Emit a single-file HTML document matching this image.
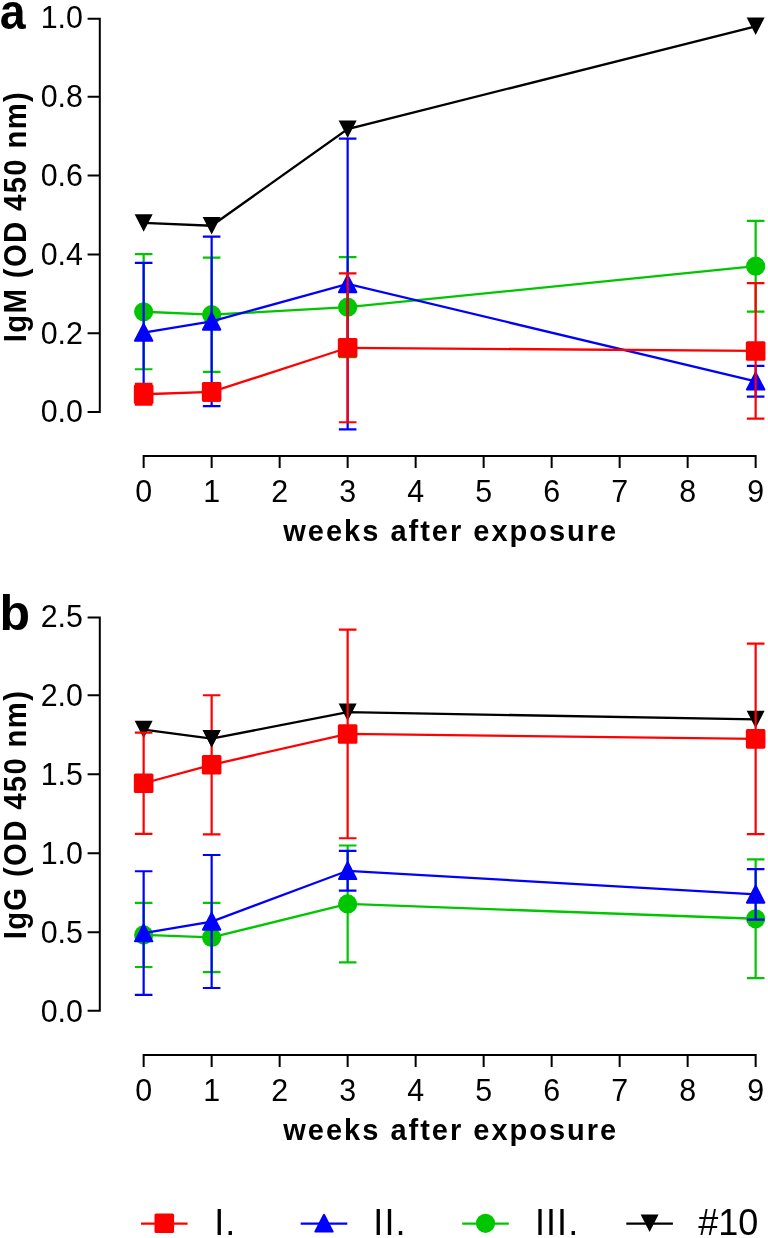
<!DOCTYPE html>
<html lang="en"><head><meta charset="utf-8"><title>IgM and IgG after exposure</title>
<style>
html,body{margin:0;padding:0;background:#fff;}
svg{display:block;font-family:"Liberation Sans",sans-serif;fill:#000;}
.tk{font-size:30.4px;letter-spacing:0px;}
.ti{font-size:29px;font-weight:bold;letter-spacing:2.0px;}
.yt{font-size:29.3px;font-weight:bold;letter-spacing:1.35px;}
.lg{font-size:36px;letter-spacing:0px;}
.pn{font-size:50px;font-weight:bold;}
</style></head><body>
<svg width="768" height="1238" viewBox="0 0 768 1238">
<rect width="768" height="1238" fill="#fff"/>
<g id="panel-a">
<path d="M99.8 17.8V413M87.6 412.00H99.8M87.6 333.20H99.8M87.6 254.40H99.8M87.6 175.60H99.8M87.6 96.80H99.8M87.6 18.80H99.8M142.65 456H756.65M143.65 456V468M211.65 456V468M279.65 456V468M347.65 456V468M415.65 456V468M483.65 456V468M551.65 456V468M619.65 456V468M687.65 456V468M755.65 456V468" stroke="#000" stroke-width="2" fill="none"/>
<text class="tk" transform="translate(82.90 422.30) scale(1 1.04)" text-anchor="end">0.0</text>
<text class="tk" transform="translate(82.90 343.50) scale(1 1.04)" text-anchor="end">0.2</text>
<text class="tk" transform="translate(82.90 264.70) scale(1 1.04)" text-anchor="end">0.4</text>
<text class="tk" transform="translate(82.90 185.90) scale(1 1.04)" text-anchor="end">0.6</text>
<text class="tk" transform="translate(82.90 107.10) scale(1 1.04)" text-anchor="end">0.8</text>
<text class="tk" transform="translate(82.90 27.80) scale(1 1.04)" text-anchor="end">1.0</text>
<text class="tk" transform="translate(143.75 501.60) scale(1 1.04)" text-anchor="middle">0</text>
<text class="tk" transform="translate(211.75 501.60) scale(1 1.04)" text-anchor="middle">1</text>
<text class="tk" transform="translate(279.75 501.60) scale(1 1.04)" text-anchor="middle">2</text>
<text class="tk" transform="translate(347.75 501.60) scale(1 1.04)" text-anchor="middle">3</text>
<text class="tk" transform="translate(415.75 501.60) scale(1 1.04)" text-anchor="middle">4</text>
<text class="tk" transform="translate(483.75 501.60) scale(1 1.04)" text-anchor="middle">5</text>
<text class="tk" transform="translate(551.75 501.60) scale(1 1.04)" text-anchor="middle">6</text>
<text class="tk" transform="translate(619.75 501.60) scale(1 1.04)" text-anchor="middle">7</text>
<text class="tk" transform="translate(687.75 501.60) scale(1 1.04)" text-anchor="middle">8</text>
<text class="tk" transform="translate(755.75 501.60) scale(1 1.04)" text-anchor="middle">9</text>
<text class="ti" transform="translate(450.75 541.30)" text-anchor="middle">weeks after exposure</text>
<text class="yt" transform="translate(26.4 216.5) rotate(-90) scale(1 1.08)" text-anchor="middle">IgM (OD 450 nm)</text>
<polyline points="143.65,222.88 211.65,225.76 347.65,129.11 755.65,26.27" stroke="#000000" stroke-width="2.3" fill="none"/>
<path d="M143.65 231.68L152.65 214.18L134.65 214.18Z" fill="#000000"/>
<path d="M211.65 234.56L220.65 217.06L202.65 217.06Z" fill="#000000"/>
<path d="M347.65 137.91L356.65 120.41L338.65 120.41Z" fill="#000000"/>
<path d="M755.65 35.07L764.65 17.57L746.65 17.57Z" fill="#000000"/>
<path d="M143.65 254.20V369.25M134.85 254.20H152.45M134.85 369.25H152.45M211.65 257.55V371.81M202.85 257.55H220.45M202.85 371.81H220.45M347.65 257.16V357.23M338.85 257.16H356.45M338.85 357.23H356.45M755.65 220.91V311.53M746.85 220.91H764.45M746.85 311.53H764.45" stroke="#00c600" stroke-width="2.2" fill="none"/>
<polyline points="143.65,311.73 211.65,314.68 347.65,307.20 755.65,266.22" stroke="#00c600" stroke-width="2.3" fill="none"/>
<circle cx="143.65" cy="311.73" r="9.6" fill="#00c600"/>
<circle cx="211.65" cy="314.68" r="9.6" fill="#00c600"/>
<circle cx="347.65" cy="307.20" r="9.6" fill="#00c600"/>
<circle cx="755.65" cy="266.22" r="9.6" fill="#00c600"/>
<path d="M143.65 262.79V402.27M134.85 262.79H152.45M134.85 402.27H152.45M211.65 236.67V406.09M202.85 236.67H220.45M202.85 406.09H220.45M347.65 138.56V429.34M338.85 138.56H356.45M338.85 429.34H356.45M755.65 365.90V396.63M746.85 365.90H764.45M746.85 396.63H764.45" stroke="#0000ff" stroke-width="2.2" fill="none"/>
<polyline points="143.65,332.53 211.65,321.38 347.65,283.95 755.65,381.27" stroke="#0000ff" stroke-width="2.3" fill="none"/>
<path d="M143.65 324.03L152.35 340.83L134.95 340.83Z" fill="#0000ff" stroke="#0000ff" stroke-width="2" stroke-linejoin="round"/>
<path d="M211.65 312.88L220.35 329.68L202.95 329.68Z" fill="#0000ff" stroke="#0000ff" stroke-width="2" stroke-linejoin="round"/>
<path d="M347.65 275.45L356.35 292.25L338.95 292.25Z" fill="#0000ff" stroke="#0000ff" stroke-width="2" stroke-linejoin="round"/>
<path d="M755.65 372.77L764.35 389.57L746.95 389.57Z" fill="#0000ff" stroke="#0000ff" stroke-width="2" stroke-linejoin="round"/>
<path d="M143.65 383.83V404.71M134.85 383.83H152.45M134.85 404.71H152.45M211.65 383.24V400.57M202.85 383.24H220.45M202.85 400.57H220.45M347.65 273.31V422.24M338.85 273.31H356.45M338.85 422.24H356.45M755.65 283.16V418.70M746.85 283.16H764.45M746.85 418.70H764.45" stroke="#ff0000" stroke-width="2.2" fill="none"/>
<polyline points="143.65,394.27 211.65,391.91 347.65,347.78 755.65,350.93" stroke="#ff0000" stroke-width="2.3" fill="none"/>
<rect x="133.85" y="384.47" width="19.60" height="19.60" rx="1.6" fill="#ff0000"/>
<rect x="201.85" y="382.11" width="19.60" height="19.60" rx="1.6" fill="#ff0000"/>
<rect x="337.85" y="337.98" width="19.60" height="19.60" rx="1.6" fill="#ff0000"/>
<rect x="745.85" y="341.13" width="19.60" height="19.60" rx="1.6" fill="#ff0000"/>
<text class="pn" transform="translate(-0.20 28.80) scale(0.93 1.0)">a</text>
</g>
<g id="panel-b">
<path d="M99.8 616.6V1011.8M87.6 1010.80H99.8M87.6 932.25H99.8M87.6 853.25H99.8M87.6 774.25H99.8M87.6 695.25H99.8M87.6 617.60H99.8M142.65 1055H756.65M143.65 1055V1067M211.65 1055V1067M279.65 1055V1067M347.65 1055V1067M415.65 1055V1067M483.65 1055V1067M551.65 1055V1067M619.65 1055V1067M687.65 1055V1067M755.65 1055V1067" stroke="#000" stroke-width="2" fill="none"/>
<text class="tk" transform="translate(82.90 1021.55) scale(1 1.04)" text-anchor="end">0.0</text>
<text class="tk" transform="translate(82.90 942.55) scale(1 1.04)" text-anchor="end">0.5</text>
<text class="tk" transform="translate(82.90 863.55) scale(1 1.04)" text-anchor="end">1.0</text>
<text class="tk" transform="translate(82.90 784.55) scale(1 1.04)" text-anchor="end">1.5</text>
<text class="tk" transform="translate(82.90 705.55) scale(1 1.04)" text-anchor="end">2.0</text>
<text class="tk" transform="translate(82.90 626.95) scale(1 1.04)" text-anchor="end">2.5</text>
<text class="tk" transform="translate(143.75 1100.60) scale(1 1.04)" text-anchor="middle">0</text>
<text class="tk" transform="translate(211.75 1100.60) scale(1 1.04)" text-anchor="middle">1</text>
<text class="tk" transform="translate(279.75 1100.60) scale(1 1.04)" text-anchor="middle">2</text>
<text class="tk" transform="translate(347.75 1100.60) scale(1 1.04)" text-anchor="middle">3</text>
<text class="tk" transform="translate(415.75 1100.60) scale(1 1.04)" text-anchor="middle">4</text>
<text class="tk" transform="translate(483.75 1100.60) scale(1 1.04)" text-anchor="middle">5</text>
<text class="tk" transform="translate(551.75 1100.60) scale(1 1.04)" text-anchor="middle">6</text>
<text class="tk" transform="translate(619.75 1100.60) scale(1 1.04)" text-anchor="middle">7</text>
<text class="tk" transform="translate(687.75 1100.60) scale(1 1.04)" text-anchor="middle">8</text>
<text class="tk" transform="translate(755.75 1100.60) scale(1 1.04)" text-anchor="middle">9</text>
<text class="ti" transform="translate(450.75 1140.30)" text-anchor="middle">weeks after exposure</text>
<text class="yt" transform="translate(26.4 814.5) rotate(-90) scale(1 1.08)" text-anchor="middle">IgG (OD 450 nm)</text>
<polyline points="143.65,729.54 211.65,738.70 347.65,712.16 755.65,719.42" stroke="#000000" stroke-width="2.3" fill="none"/>
<path d="M143.65 738.34L152.65 720.84L134.65 720.84Z" fill="#000000"/>
<path d="M211.65 747.50L220.65 730.00L202.65 730.00Z" fill="#000000"/>
<path d="M347.65 720.96L356.65 703.46L338.65 703.46Z" fill="#000000"/>
<path d="M755.65 728.22L764.65 710.72L746.65 710.72Z" fill="#000000"/>
<path d="M143.65 902.86V967.01M134.85 902.86H152.45M134.85 967.01H152.45M211.65 902.86V972.07M202.85 902.86H220.45M202.85 972.07H220.45M347.65 845.51V962.43M338.85 845.51H356.45M338.85 962.43H356.45M755.65 859.33V978.15M746.85 859.33H764.45M746.85 978.15H764.45" stroke="#00c600" stroke-width="2.2" fill="none"/>
<polyline points="143.65,934.94 211.65,937.46 347.65,903.97 755.65,918.74" stroke="#00c600" stroke-width="2.3" fill="none"/>
<circle cx="143.65" cy="934.94" r="9.6" fill="#00c600"/>
<circle cx="211.65" cy="937.46" r="9.6" fill="#00c600"/>
<circle cx="347.65" cy="903.97" r="9.6" fill="#00c600"/>
<circle cx="755.65" cy="918.74" r="9.6" fill="#00c600"/>
<path d="M143.65 871.26V994.82M134.85 871.26H152.45M134.85 994.82H152.45M211.65 854.99V988.02M202.85 854.99H220.45M202.85 988.02H220.45M347.65 850.88V890.70M338.85 850.88H356.45M338.85 890.70H356.45M755.65 869.05V919.61M746.85 869.05H764.45M746.85 919.61H764.45" stroke="#0000ff" stroke-width="2.2" fill="none"/>
<polyline points="143.65,933.04 211.65,921.51 347.65,870.79 755.65,894.33" stroke="#0000ff" stroke-width="2.3" fill="none"/>
<path d="M143.65 924.54L152.35 941.34L134.95 941.34Z" fill="#0000ff" stroke="#0000ff" stroke-width="2" stroke-linejoin="round"/>
<path d="M211.65 913.01L220.35 929.81L202.95 929.81Z" fill="#0000ff" stroke="#0000ff" stroke-width="2" stroke-linejoin="round"/>
<path d="M347.65 862.29L356.35 879.09L338.95 879.09Z" fill="#0000ff" stroke="#0000ff" stroke-width="2" stroke-linejoin="round"/>
<path d="M755.65 885.83L764.35 902.63L746.95 902.63Z" fill="#0000ff" stroke="#0000ff" stroke-width="2" stroke-linejoin="round"/>
<path d="M143.65 732.70V833.82M134.85 732.70H152.45M134.85 833.82H152.45M211.65 695.25V834.29M202.85 695.25H220.45M202.85 834.29H220.45M347.65 629.68V838.24M338.85 629.68H356.45M338.85 838.24H356.45M755.65 643.58V834.13M746.85 643.58H764.45M746.85 834.13H764.45" stroke="#ff0000" stroke-width="2.2" fill="none"/>
<polyline points="143.65,783.26 211.65,764.77 347.65,733.96 755.65,738.86" stroke="#ff0000" stroke-width="2.3" fill="none"/>
<rect x="133.85" y="773.46" width="19.60" height="19.60" rx="1.6" fill="#ff0000"/>
<rect x="201.85" y="754.97" width="19.60" height="19.60" rx="1.6" fill="#ff0000"/>
<rect x="337.85" y="724.16" width="19.60" height="19.60" rx="1.6" fill="#ff0000"/>
<rect x="745.85" y="729.06" width="19.60" height="19.60" rx="1.6" fill="#ff0000"/>
<path d="M211.65 747.50L220.65 730.00L202.65 730.00Z" fill="#000000"/>
<text class="pn" transform="translate(-0.40 630.00)">b</text>
</g>
<g id="legend">
<path d="M141.00 1223.6H187.60" stroke="#ff0000" stroke-width="2.3"/>
<rect x="154.50" y="1213.50" width="19.60" height="19.60" rx="1.6" fill="#ff0000"/>
<text class="lg" transform="translate(214.20 1234.70) scale(1 1.04)" style="letter-spacing:1.1px">I.</text>
<path d="M300.70 1223.6H347.30" stroke="#0000ff" stroke-width="2.3"/>
<path d="M324.00 1214.80L332.70 1231.60L315.30 1231.60Z" fill="#0000ff" stroke="#0000ff" stroke-width="2" stroke-linejoin="round"/>
<text class="lg" transform="translate(373.30 1234.70) scale(1 1.04)" style="letter-spacing:1.1px">II.</text>
<path d="M462.20 1223.6H508.80" stroke="#00c600" stroke-width="2.3"/>
<circle cx="485.50" cy="1223.30" r="9.6" fill="#00c600"/>
<text class="lg" transform="translate(534.90 1234.70) scale(1 1.04)" style="letter-spacing:1.1px">III.</text>
<path d="M626.30 1223.6H672.90" stroke="#000000" stroke-width="2.3"/>
<path d="M649.60 1232.10L658.60 1214.60L640.60 1214.60Z" fill="#000000"/>
<text class="lg" transform="translate(698.20 1234.70) scale(1 1.04)">#10</text>
</g>
</svg></body></html>
